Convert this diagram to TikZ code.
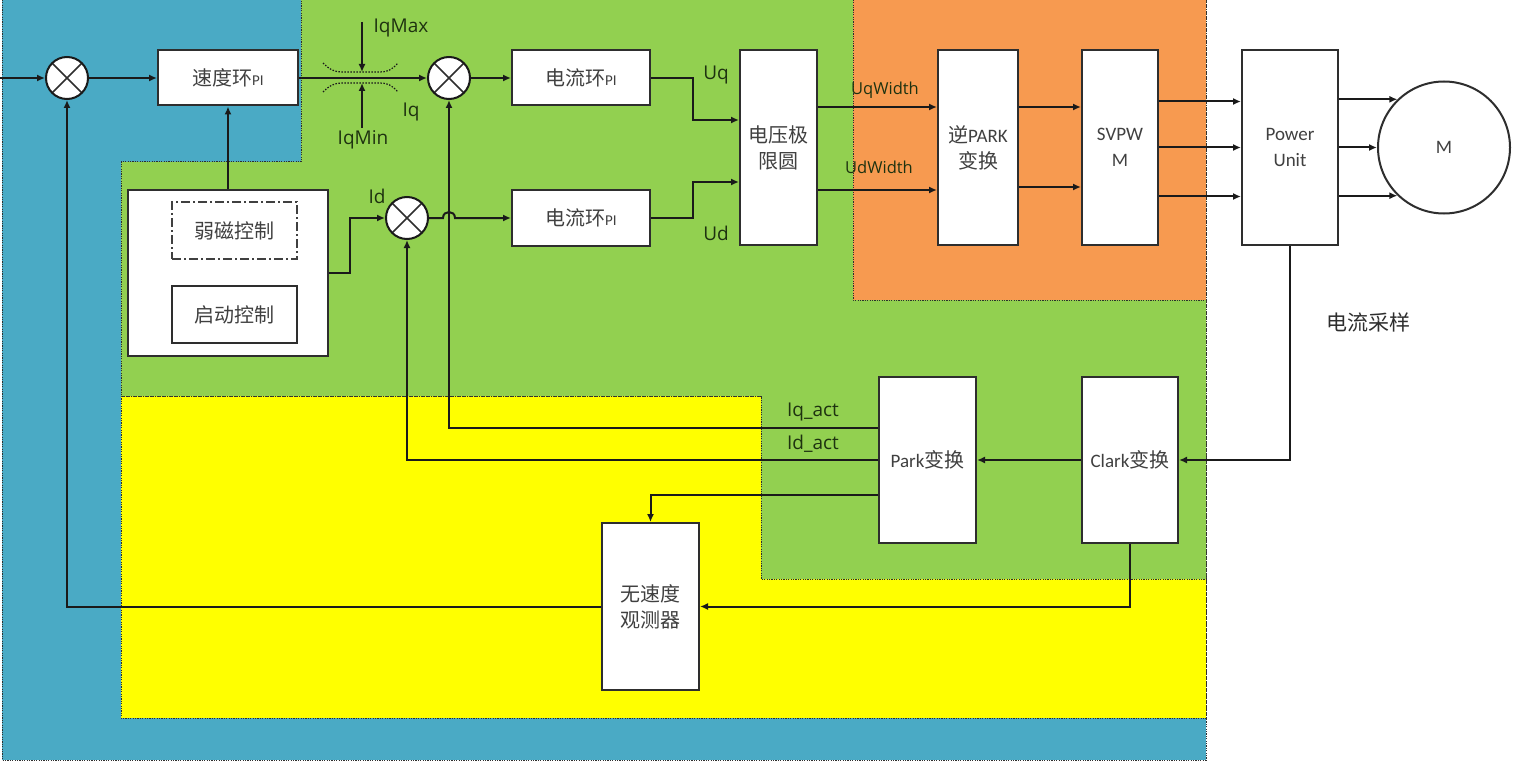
\documentclass[tikz,border=0pt]{standalone}
\usepackage{fontspec}
\setmainfont{Carlito}
\newfontfamily\cjk{Noto Sans CJK SC}
\newfontfamily\lblfont{Open Sans}
\usetikzlibrary{arrows.meta,calc}
\definecolor{rblue}{HTML}{4AAAC5}
\definecolor{rgreen}{HTML}{92D050}
\definecolor{rorange}{HTML}{F79A50}
\definecolor{ryellow}{HTML}{FFFF00}
\definecolor{linec}{HTML}{1A1A1A}
\definecolor{boxc}{HTML}{2E2E2E}
\definecolor{txtc}{HTML}{404040}
\definecolor{lblc}{HTML}{1E3210}
\newcommand\bfs{\fontsize{19}{26}\selectfont}
\newcommand\cfs{\fontsize{20}{26}\selectfont}
\newcommand\pifs{\fontsize{15}{17}\selectfont}
\tikzset{
  region/.style={draw=boxc, line width=1pt, dash pattern=on 1.2pt off 1.2pt},
  blk/.style={draw=boxc, line width=2pt, fill=white, inner sep=0pt, text=txtc, font=\bfs, align=center},
  sumnode/.style={circle, draw=linec, line width=2pt, fill=white, minimum size=42pt, inner sep=0pt,
    path picture={\draw[line width=1.5pt, boxc] (path picture bounding box.north west) -- (path picture bounding box.south east)
      (path picture bounding box.north east) -- (path picture bounding box.south west);}},
  conn/.style={draw=linec, line width=2pt, -{Latex[length=8pt,width=7pt]}},
  lbl/.style={inner sep=0pt, text=lblc, font=\lblfont\fontsize{19}{22}\selectfont},
  lbls/.style={inner sep=0pt, text=lblc, font=\lblfont\fontsize{16.5}{20}\selectfont},
  limdot/.style={draw=linec, line width=1.2pt, dash pattern=on 1.5pt off 1.5pt}
}
\begin{document}
\begin{tikzpicture}[x=1pt,y=-1pt]
\useasboundingbox (0,0) rectangle (1519,765);
% regions
\fill[white] (0,0) rectangle (1519,765);
\path[region, fill=rblue] (2,-5) rectangle (1206,760);
\path[region, fill=ryellow] (121,396) rectangle (1206,718);
\path[region, fill=rgreen] (301,-5) -- (1206,-5) -- (1206,579) -- (761,579) -- (761,396) -- (121,396) -- (121,162) -- (301,162) -- cycle;
\path[region, fill=rorange] (853,-5) rectangle (1206,300);

% blocks
\node[sumnode] (sum1) at (67,78) {};
\node[sumnode] (sum2) at (449,78) {};
\node[sumnode] (sum3) at (407,218) {};
\node[blk, minimum width=140pt, minimum height=55pt] (spi) at (228,78) {{\cjk\cfs 速度环}{\pifs PI}};
\node[blk, minimum width=138pt, minimum height=55pt] (cpi1) at (581,78) {{\cjk\cfs 电流环}{\pifs PI}};
\node[blk, minimum width=138pt, minimum height=55pt] (cpi2) at (581,218) {{\cjk\cfs 电流环}{\pifs PI}};
\node[blk, minimum width=77pt, minimum height=195pt] (vlim) at (778.5,147.5) {{\cjk\cfs 电压极}\\{\cjk\cfs 限圆}};
\node[blk, minimum width=80pt, minimum height=195pt] (ipark) at (978,147.5) {{\cjk\cfs 逆}PARK\\{\cjk\cfs 变换}};
\node[blk, minimum width=76pt, minimum height=195pt] (svpwm) at (1120,147.5) {SVPW\\M};
\node[blk, minimum width=96pt, minimum height=195pt] (pu) at (1290,147.5) {Power\\Unit};
\node[blk, circle, minimum size=132pt] (motor) at (1444,147.5) {M};
\node[blk, minimum width=97pt, minimum height=166pt] (park) at (927.5,460) {Park{\cjk\cfs 变换}};
\node[blk, minimum width=96pt, minimum height=166pt] (clark) at (1130,460) {Clark{\cjk\cfs 变换}};
\node[blk, minimum width=97pt, minimum height=167pt] (obs) at (650.5,606.5) {{\cjk\cfs 无速度}\\{\cjk\cfs 观测器}};
\node[blk, minimum width=200pt, minimum height=166pt] (weak) at (228,273) {};
\node[blk, minimum width=125pt, minimum height=57pt, draw=txtc, dash pattern=on 9pt off 3pt on 2pt off 3pt] (fw) at (234.5,230.5) {\cjk\cfs 弱磁控制};
\node[blk, minimum width=125pt, minimum height=57pt] (start) at (234.5,314.5) {\cjk\cfs 启动控制};

% forward path
\coordinate (in) at (0,78);
\draw[conn] (in) -- (sum1.west);
\draw[conn] (sum1.east) -- (spi.west);
\draw[conn] (spi.east) -- (sum2.west);
\draw[conn] (sum2.east) -- (cpi1.west);
\draw[conn] (weak.north) -- (spi.south);
\draw[conn] (weak.east) -- ++(21,0) |- (sum3.west);
\draw[conn] (sum3.east) -- (443,218) .. controls (443,210) and (455,210) .. (455,218) -- (cpi2.west);
\draw[conn] (cpi1.east) -- ++(42,0) |- ([yshift=27.5pt]vlim.west);
\draw[conn] (cpi2.east) -- ++(42,0) |- ([yshift=-34.5pt]vlim.west);
\draw[conn] ([yshift=40.5pt]vlim.east) -- ([yshift=40.5pt]ipark.west);
\draw[conn] ([yshift=-42.5pt]vlim.east) -- ([yshift=-42.5pt]ipark.west);
\draw[conn] ([yshift=40.5pt]ipark.east) -- ([yshift=40.5pt]svpwm.west);
\draw[conn] ([yshift=-39.5pt]ipark.east) -- ([yshift=-39.5pt]svpwm.west);
\draw[conn] ([yshift=46pt]svpwm.east) -- ([yshift=46pt]pu.west);
\draw[conn] (svpwm.east) -- (pu.west);
\draw[conn] ([yshift=-49pt]svpwm.east) -- ([yshift=-49pt]pu.west);
\draw[conn] (motor.134 -| pu.east) -- (motor.134);
\draw[conn] (pu.east) -- (motor.west);
\draw[conn] (motor.226 -| pu.east) -- (motor.226);

% limiter
\coordinate (qmaxs) at (362,22);
\coordinate (qmaxe) at (362,72);
\coordinate (qmins) at (362,128);
\coordinate (qmine) at (362,83);
\draw[conn] (qmaxs) -- (qmaxe);
\draw[conn] (qmins) -- (qmine);
\draw[limdot] (323,63) .. controls (330,70) and (335,72) .. (342,72) -- (380,72) .. controls (387,72) and (392,70) .. (398,63);
\draw[limdot] (323,92) .. controls (330,85) and (335,83) .. (342,83) -- (380,83) .. controls (387,83) and (392,85) .. (398,92);

% feedback
\draw[conn] (pu.south) |- (clark.east);
\draw[conn] (clark.west) -- (park.east);
\draw[conn] ([yshift=32pt]park.west) -| (sum2.south);
\draw[conn] (park.west) -| (sum3.south);
\draw[conn] ([yshift=-35pt]park.west) -| (obs.north);
\draw[conn] (clark.south) |- (obs.east);
\draw[conn] (obs.west) -| (sum1.south);

% labels
\node[lbl] (lmax) at (401,28) {IqMax};
\node[lbl] (liq) at (411,112) {Iq};
\node[lbl] (lmin) at (363,140) {IqMin};
\node[lbl] (lid) at (377,196) {Id};
\node[lbl] (luq) at (716,75) {Uq};
\node[lbl] (lud) at (716,233) {Ud};
\node[lbls] (luqw) at (885,90) {UqWidth};
\node[lbls] (ludw) at (879,167) {UdWidth};
\node[lbl] (liqa) at (813,412) {Iq\_act};
\node[lbl] (lida) at (813,444) {Id\_act};
\node[inner sep=0pt, text=boxc, font=\cjk\fontsize{21}{24}\selectfont] (lsamp) at (1368,322) {电流采样};
\end{tikzpicture}
\end{document}
